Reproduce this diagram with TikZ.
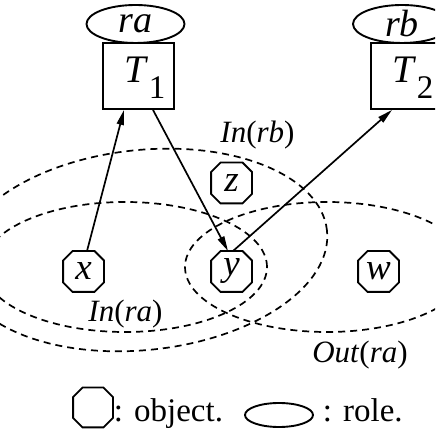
\documentclass[tikz,border=0pt]{standalone}
\usepackage{fontspec}
\setmainfont{Liberation Serif}
\usetikzlibrary{shapes.geometric,arrows.meta}
\newcommand\setlbl[2]{\textit{#1}(\textit{#2})}
\newcommand\octagonpath[2]{%
  \draw[line width=1.9pt] ([xshift=#2]#1.north west) -- ([xshift=-#2]#1.north east)
    -- ([yshift=-#2]#1.north east) -- ([yshift=#2]#1.south east)
    -- ([xshift=-#2]#1.south east) -- ([xshift=#2]#1.south west)
    -- ([yshift=#2]#1.south west) -- ([yshift=-#2]#1.north west) -- cycle;}
\begin{document}
\begin{tikzpicture}[x=1pt,y=1pt,line width=1.9pt,
  obj/.style={rectangle, minimum width=39pt, minimum height=39pt, inner sep=0pt,
    font=\fontsize{37}{37}\selectfont\itshape,
    append after command={\pgfextra{\octagonpath{\tikzlastnode}{9.5pt}}}},
  roleell/.style={draw, ellipse, minimum width=98pt, minimum height=38pt,
    inner sep=0pt, font=\fontsize{38}{38}\selectfont\itshape},
  taskbox/.style={draw, rectangle, minimum width=71pt, minimum height=66pt,
    inner sep=0pt},
  setline/.style={dash pattern=on 7pt off 5pt, line width=1.7pt},
  setlabel/.style={inner sep=0pt, anchor=base, font=\fontsize{31}{31}\selectfont},
  legtext/.style={inner sep=0pt, anchor=base west, font=\fontsize{33}{33}\selectfont},
  arr/.style={-{Triangle[length=15pt,width=7pt]}, line width=1.7pt}
]
\useasboundingbox (0,0) rectangle (435,435);
\clip (0,0) rectangle (435,435);

% dashed sets
\draw[setline, rotate around={6:(143,185)}] (143,185) ellipse [x radius=185, y radius=100];
\draw[setline] (125,168) ellipse [x radius=142, y radius=65];
\draw[setline] (327,168) ellipse [x radius=142, y radius=65];

% roles and tasks
\node[roleell] (ra) at (135.5,411) {ra};
\node[roleell] (rb) at (402,411) {rb};
\node[taskbox] (T1) at (138.5,359) {};
\node[taskbox] (T2) at (406.5,359) {};
\node[inner sep=0pt, anchor=base west] (T1l) at (124,352)
  {\fontsize{39}{39}\selectfont\itshape T\/\upshape\raisebox{-16pt}{\fontsize{33}{33}\selectfont 1}};
\node[inner sep=0pt, anchor=base west] (T2l) at (392,352)
  {\fontsize{39}{39}\selectfont\itshape T\/\upshape\raisebox{-16pt}{\fontsize{33}{33}\selectfont 2}};

% objects
\node[obj] (z) at (231.5,252) {z};
\node[obj] (x) at (83.5,163.5) {x};
\node[obj] (y) at (231.5,163.5) {y};
\node[obj] (w) at (378.5,163.5) {w};

% set labels
\node[setlabel] (inrb) at (257.5,292) {\setlbl{In}{rb}};
\node[setlabel] (inra) at (125.5,113) {\setlbl{In}{ra}};
\node[setlabel] (outra) at (360,72) {\setlbl{Out}{ra}};

% connectors
\draw[arr] ([xshift=3.5pt]x.north) -- ([xshift=-14.5pt]T1.south);
\draw[arr] ([xshift=14.5pt]T1.south) -- ([xshift=-3.5pt]y.north);
\draw[arr] ([xshift=1.5pt]y.north) -- ([xshift=-14.5pt]T2.south);

% legend
\node[obj, minimum width=38pt, minimum height=38pt] (lo) at (93,27.5) {};
\node[legtext] (lot) at (113,13) {: object.};
\node[draw, ellipse, minimum width=68pt, minimum height=24pt, inner sep=0pt] (le) at (279,20) {};
\node[legtext] (lrt) at (322,13) {: role.};
\end{tikzpicture}
\end{document}
